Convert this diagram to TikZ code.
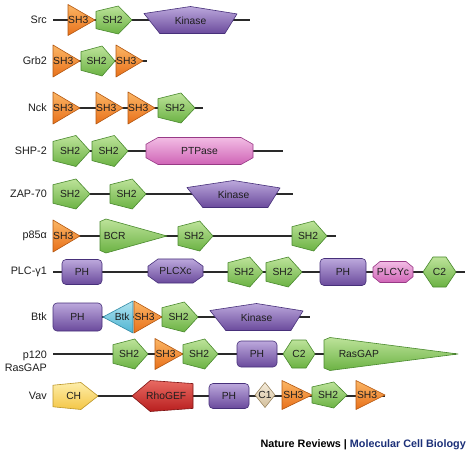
\documentclass[tikz,border=0pt]{standalone}
\usepackage{fontspec}
\setmainfont{Liberation Sans}
\definecolor{bbc}{HTML}{2A2A2A}
\definecolor{txt}{HTML}{1E1E1E}
\definecolor{navyc}{HTML}{1B2F78}
\definecolor{oT}{HTML}{FBB665}\definecolor{oB}{HTML}{E8701A}\definecolor{oD}{HTML}{B45812}
\definecolor{gT}{HTML}{BDE39A}\definecolor{gB}{HTML}{6BB243}\definecolor{gD}{HTML}{4A8A2E}
\definecolor{pT}{HTML}{BCA8DC}\definecolor{pB}{HTML}{6A4A9C}\definecolor{pD}{HTML}{47307A}
\definecolor{kT}{HTML}{F2BCE4}\definecolor{kB}{HTML}{CF64B6}\definecolor{kD}{HTML}{983A86}
\definecolor{cT}{HTML}{B0E4F0}\definecolor{cB}{HTML}{4FB4D2}\definecolor{cD}{HTML}{2E88A4}
\definecolor{yT}{HTML}{FDEDA8}\definecolor{yB}{HTML}{F4C646}\definecolor{yD}{HTML}{BC9628}
\definecolor{rT}{HTML}{E86A62}\definecolor{rB}{HTML}{B81E1E}\definecolor{rD}{HTML}{7E1414}
\definecolor{tT}{HTML}{F4EBDA}\definecolor{tB}{HTML}{D4C09C}\definecolor{tD}{HTML}{9E8A66}
% style L R Y H name text
\newcommand\DTriR[7]{\path[#1] (#2,{#4-#5}) -- (#3,#4) -- (#2,{#4+#5}) -- cycle;
 \node[dtext] (#6) at ({#2+0.38*(#3-#2)},#4) {#7};}
\newcommand\DTriL[7]{\path[#1] (#3,{#4-#5}) -- (#2,#4) -- (#3,{#4+#5}) -- cycle;
 \node[dtext] (#6) at ({#2+0.64*(#3-#2)},#4) {#7};}
% style L R Y H f name text
\newcommand\DPent[8]{\path[#1] (#2,{#4-#6*#5}) -- ({#2+0.62*(#3-#2)},{#4-#5}) -- (#3,#4) -- ({#2+0.62*(#3-#2)},{#4+#5}) -- (#2,{#4+#6*#5}) -- cycle;
 \node[dtext] (#7) at ({#2+0.46*(#3-#2)},#4) {#8};}
% style L R Y H name
\newcommand\DKin[6]{\path[#1] (#2,{#4-0.48*#5}) -- ({(#2+#3)/2},{#4-#5}) -- (#3,{#4-0.45*#5}) -- ({#3-0.13*(#3-#2)},{#4+#5}) -- ({#2+0.17*(#3-#2)},{#4+#5}) -- cycle;
 \node[dtext] (#6) at ({(#2+#3)/2},{#4+1}) {Kinase};}
% style L R Y H s f name text
\newcommand\DOct[9]{\path[#1] (#2,{#4-#7*#5}) -- ({#2+#6},{#4-#5}) -- ({#3-#6},{#4-#5}) -- (#3,{#4-#7*#5}) -- (#3,{#4+#7*#5}) -- ({#3-#6},{#4+#5}) -- ({#2+#6},{#4+#5}) -- (#2,{#4+#7*#5}) -- cycle;
 \node[dtext] (#8) at ({(#2+#3)/2},#4) {#9};}
\newcommand\DRect[7]{\path[#1, rounded corners=4pt] (#2,{#4-#5}) rectangle (#3,{#4+#5});
 \node[dtext] (#6) at ({(#2+#3)/2},#4) {#7};}
% style L R Y H name text frac
\newcommand\DWedge[8]{\path[#1] (#2,{#4-0.85*#5}) -- ({#2+6},{#4-#5}) -- (#3,#4) -- ({#2+6},{#4+#5}) -- (#2,{#4+0.85*#5}) -- cycle;
 \node[dtext] (#6) at ({#2+#8*(#3-#2)},#4) {#7};}
\newcommand\DGef[7]{\path[#1] (#2,#4) -- ({#2+0.3*(#3-#2)},{#4-#5}) -- (#3,{#4-0.8*#5}) -- (#3,{#4+0.8*#5}) -- ({#2+0.3*(#3-#2)},{#4+#5}) -- cycle;
 \node[dtext] (#6) at ({#2+0.56*(#3-#2)},#4) {#7};}
\newcommand\DDia[7]{\path[#1] (#2,#4) -- ({(#2+#3)/2},{#4-#5}) -- (#3,#4) -- ({(#2+#3)/2},{#4+#5}) -- cycle;
 \node[dtext] (#6) at ({(#2+#3)/2},#4) {#7};}
\begin{document}
\begin{tikzpicture}[x=1pt,y=-1pt,
  dtext/.style={inner sep=0pt, text=txt, font=\fontsize{10.3}{12}\selectfont},
  rowlab/.style={anchor=east, inner sep=0pt, text=txt, font=\fontsize{10.8}{13}\selectfont},
  bb/.style={draw=bbc, line width=1.1pt},
  dom/.style={line width=0.6pt, line join=round},
  sh3/.style={dom, draw=oD, top color=oT, bottom color=oB},
  sh2/.style={dom, draw=gD, top color=gT, bottom color=gB},
  pur/.style={dom, draw=pD, top color=pT, bottom color=pB},
  pnk/.style={dom, draw=kD, top color=kT, bottom color=kB},
  cya/.style={dom, draw=cD, top color=cT, bottom color=cB},
  yel/.style={dom, draw=yD, top color=yT, bottom color=yB},
  red/.style={dom, draw=rD, top color=rT, bottom color=rB},
  tan/.style={dom, draw=tD, top color=tT, bottom color=tB}]
\useasboundingbox[fill=white] (0,0) rectangle (474,457);

% ---------------- Src
\node[rowlab] (lSrc) at (47,20) {Src};
\coordinate (aSrc) at (53,20); \coordinate (bSrc) at (250,20);
\draw[bb] (aSrc) -- (bSrc);
\DTriR{sh3}{68}{95}{20}{15.5}{src1}{SH3}
\DPent{sh2}{96}{132}{20}{14}{0.62}{src2}{SH2}
\DKin{pur}{144}{237}{20}{13.5}{src3}

% ---------------- Grb2
\node[rowlab] (lGrb) at (47,61) {Grb2};
\coordinate (aGrb) at (53,61); \coordinate (bGrb) at (147,61);
\draw[bb] (aGrb) -- (bGrb);
\DTriR{sh3}{53}{80}{61}{16}{grb1}{SH3}
\DPent{sh2}{81}{115}{61}{15}{0.62}{grb2}{SH2}
\DTriR{sh3}{116}{143}{61}{16}{grb3}{SH3}

% ---------------- Nck
\node[rowlab] (lNck) at (47,108) {Nck};
\coordinate (aNck) at (53,108); \coordinate (bNck) at (203,108);
\draw[bb] (aNck) -- (bNck);
\DTriR{sh3}{53}{80}{108}{16}{nck1}{SH3}
\DTriR{sh3}{96}{123}{108}{16}{nck2}{SH3}
\DTriR{sh3}{128}{155}{108}{16}{nck3}{SH3}
\DPent{sh2}{158}{195}{108}{15}{0.62}{nck4}{SH2}

% ---------------- SHP-2
\node[rowlab] (lShp) at (47,151) {SHP-2};
\coordinate (aShp) at (53,151); \coordinate (bShp) at (283,151);
\draw[bb] (aShp) -- (bShp);
\DPent{sh2}{53}{90}{151}{15.5}{0.62}{shp1}{SH2}
\DPent{sh2}{92}{128}{151}{15.5}{0.62}{shp2}{SH2}
\DOct{pnk}{146}{253}{151}{13.5}{12}{0.5}{shp3}{PTPase}

% ---------------- ZAP-70
\node[rowlab] (lZap) at (47,194) {ZAP-70};
\coordinate (aZap) at (53,194); \coordinate (bZap) at (293,194);
\draw[bb] (aZap) -- (bZap);
\DPent{sh2}{53}{90}{194}{15}{0.62}{zap1}{SH2}
\DPent{sh2}{110}{146}{194}{15}{0.62}{zap2}{SH2}
\DKin{pur}{187}{280}{194}{13.5}{zap3}

% ---------------- p85alpha
\node[rowlab] (lP85) at (47,236) {p85α};
\coordinate (aP85) at (53,236); \coordinate (bP85) at (336,236);
\draw[bb] (aP85) -- (bP85);
\DTriR{sh3}{53}{80}{236}{16}{p851}{SH3}
\DWedge{sh2}{100}{167}{236}{17}{p852}{BCR}{0.22}
\DPent{sh2}{178}{213}{236}{15}{0.62}{p853}{SH2}
\DPent{sh2}{292}{327}{236}{15}{0.62}{p854}{SH2}

% ---------------- PLC-gamma1
\node[rowlab] (lPlc) at (47,272) {PLC-γ1};
\coordinate (aPlc) at (53,272); \coordinate (bPlc) at (465,272);
\draw[bb] (aPlc) -- (bPlc);
\DRect{pur}{62}{102}{272}{12.5}{plc1}{PH}
\DOct{pur}{148}{203}{271}{12}{10}{0.4}{plc2}{PLCXc}
\DPent{sh2}{228}{263}{272}{15}{0.62}{plc3}{SH2}
\DPent{sh2}{266}{302}{272}{15}{0.62}{plc4}{SH2}
\DRect{pur}{320}{366}{272}{13.5}{plc5}{PH}
\DOct{pnk}{373}{413}{272}{10.5}{7}{0.45}{plc6}{PLCYc}
\DOct{sh2}{423}{456}{272}{15}{10}{0}{plc7}{C2}

% ---------------- Btk
\node[rowlab] (lBtk) at (47,317) {Btk};
\coordinate (aBtk) at (53,317); \coordinate (bBtk) at (310,317);
\draw[bb] (aBtk) -- (bBtk);
\DRect{pur}{53}{102}{317}{14}{btk1}{PH}
\DTriL{cya}{103}{133}{317}{16}{btk2}{Btk}
\DTriR{sh3}{134}{162}{317}{16}{btk3}{SH3}
\DPent{sh2}{162}{198}{317}{15}{0.62}{btk4}{SH2}
\DKin{pur}{210}{303}{317}{13.5}{btk5}

% ---------------- p120 RasGAP
\node[rowlab, align=right] (lRas) at (47,361) {p120\\RasGAP};
\coordinate (aRas) at (53,354); \coordinate (bRas) at (456,354);
\draw[bb] (aRas) -- (bRas);
\DPent{sh2}{113}{148}{354}{15}{0.62}{ras1}{SH2}
\DTriR{sh3}{155}{183}{354}{15.5}{ras2}{SH3}
\DPent{sh2}{183}{218}{354}{15}{0.62}{ras3}{SH2}
\DRect{pur}{237}{277}{354}{13}{ras4}{PH}
\DOct{sh2}{283}{315}{354}{14}{9}{0}{ras5}{C2}
\DWedge{sh2}{324}{458}{354}{16.5}{ras6}{RasGAP}{0.26}

% ---------------- Vav
\node[rowlab] (lVav) at (47,396) {Vav};
\coordinate (aVav) at (53,396); \coordinate (bVav) at (385,396);
\draw[bb] (aVav) -- (bVav);
\DPent{yel}{53}{98}{396}{13.5}{0.8}{vav1}{CH}
\DGef{red}{132}{193}{396}{15.5}{vav2}{RhoGEF}
\DRect{pur}{209}{249}{396}{12.5}{vav3}{PH}
\DDia{tan}{255}{275}{395}{12.5}{vav4}{C1}
\DTriR{sh3}{282}{312}{395}{14.5}{vav5}{SH3}
\DPent{sh2}{312}{347}{395}{13}{0.62}{vav6}{SH2}
\DTriR{sh3}{356}{385}{395}{14.5}{vav7}{SH3}

% ---------------- footer
\node[anchor=east, inner sep=0pt, font=\bfseries\fontsize{10.8}{13}\selectfont] (foot) at (466,445)
  {Nature Reviews | \textcolor{navyc}{Molecular Cell Biology}};
\end{tikzpicture}
\end{document}
